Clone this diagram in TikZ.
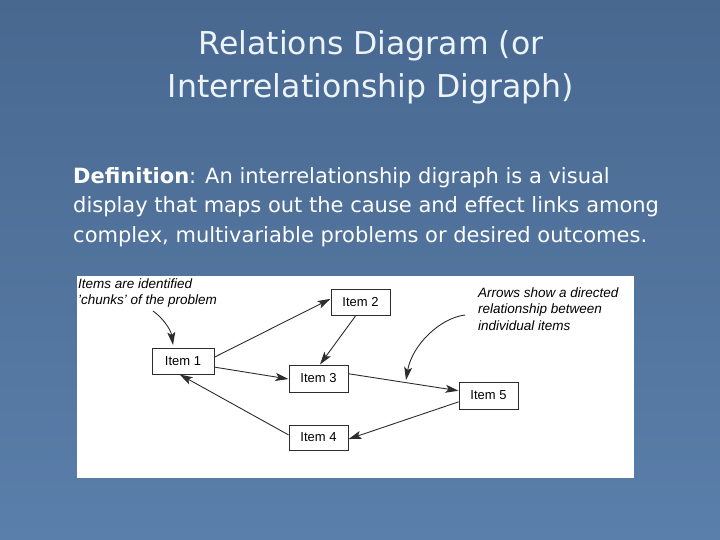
\documentclass[tikz,border=0pt]{standalone}
\usepackage{fontspec}
\setmainfont{Liberation Sans}
\newfontfamily\tahoma{DejaVu Sans}
\usetikzlibrary{arrows.meta,calc}
\definecolor{bgtop}{RGB}{72,104,144}
\definecolor{bgbot}{RGB}{90,127,170}
\definecolor{titlecol}{RGB}{236,244,250}
\definecolor{linecol}{RGB}{45,45,45}
\tikzset{
  itembox/.style={draw=linecol, line width=1pt, fill=white, minimum width=60pt, minimum height=26pt, inner sep=0pt, font=\fontsize{13}{15}\selectfont},
  link/.style={draw=linecol, line width=0.9pt, -{Stealth[length=13pt,width=8pt,inset=3pt]}},
  callout/.style={font=\fontsize{13.5}{16.5}\selectfont\itshape, anchor=base west, inner sep=0pt},
  titletext/.style={font=\tahoma\fontsize{31.5}{40}\selectfont, text=titlecol, anchor=base, inner sep=0pt},
  deftext/.style={font=\tahoma\fontsize{21}{29}\selectfont, text=white, anchor=base west, inner sep=0pt}
}
\begin{document}
\begin{tikzpicture}[x=1pt,y=-1pt]
\useasboundingbox (0,0) rectangle (720,540);
\shade[top color=bgtop, bottom color=bgbot] (0,0) rectangle (720,540);
% title
\node[titletext] (t1) at (371,55) {Relations Diagram (or};
\node[titletext] (t2) at (371,98) {Interrelationship Digraph)};
% definition
\node[deftext] (d1) at (73,184) {\textbf{Definition}: An interrelationship digraph is a visual};
\node[deftext] (d2) at (73,213) {display that maps out the cause and effect links among};
\node[deftext] (d3) at (73,242) {complex, multivariable problems or desired outcomes.};
% panel
\fill[white] (77,276) rectangle (634,478);
% callout texts
\node[callout] (n1a) at (78,288) {Items are identified};
\node[callout] (n1b) at (78,304) {'chunks' of the problem};
\node[callout] (n2a) at (478,297) {Arrows show a directed};
\node[callout] (n2b) at (478,313.5) {relationship between};
\node[callout] (n2c) at (478,330) {individual items};
% items
\node[itembox, minimum width=62pt] (i1) at (183,361) {Item 1};
\node[itembox, minimum width=59pt] (i2) at (360.5,302) {Item 2};
\node[itembox, minimum width=59pt, minimum height=27pt] (i3) at (318.5,378.5) {Item 3};
\node[itembox, minimum width=59pt, minimum height=27pt] (i5) at (488.5,395.5) {Item 5};
\node[itembox, minimum width=59pt, minimum height=25pt] (i4) at (318.5,437.5) {Item 4};
% links
\draw[link] (i1.7) -- (i2.174);
\draw[link] (i2.251) -- (i3.84);
\draw[link] (i1.349) -- (i3.181);
\draw[link] (i3.9) -- (i5.171);
\draw[link] (i5.192) -- (i4.357);
\draw[link] (i4.175) -- (i1.256);
% callout arrows
\coordinate (c1s) at (153,311);
\coordinate (c1e) at (173,345);
\coordinate (c2s) at (465,315);
\coordinate (c2e) at (406,380);
\draw[link] (c1s) .. controls (163,318) and (171,330) .. (c1e);
\draw[link] (c2s) .. controls (440,318) and (412,345) .. (c2e);
\end{tikzpicture}
\end{document}
